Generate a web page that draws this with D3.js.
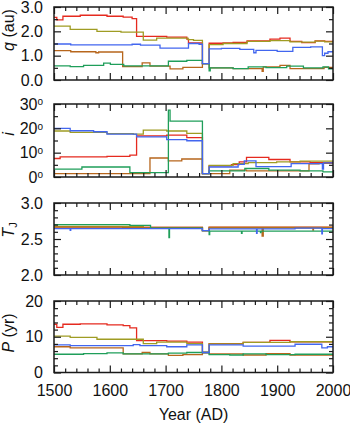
<!DOCTYPE html>
<html><head><meta charset="utf-8">
<script src="https://cdn.jsdelivr.net/npm/d3@7"></script>
<style>body{margin:0;background:#fff}svg{display:block}</style>
</head><body><svg id="c" width="350" height="425"></svg>
<script>
// ---------- data: [year, value] step starts ----------
const seriesNames = ["red","olive","brown","green","blue"];
const seriesColors = ["#e52a1f","#9f9c23","#b7661c","#1f9e5a","#4266ef"];

const qRed   = [[1500,2.57],[1505,2.47],[1516,2.62],[1547,2.66],[1595,2.62],[1624,2.58],[1640,2.52],[1648,1.79],[1702,1.76],[1738,1.68],[1741,1.52],[1766,0.67],[1778,1.51],[1803,1.52],[1821,1.55],[1846,1.61],[1887,1.68],[1905,1.72],[1923,1.59],[1944,1.54],[1968,1.61],[1985,1.59]];
const qOlive = [[1500,2.21],[1529,2.08],[1577,2.0],[1620,1.97],[1660,1.64],[1684,1.72],[1740,1.66],[1750,1.63],[1766,0.67],[1778,1.45],[1803,1.5],[1846,1.59],[1887,1.62],[1923,1.57],[1944,1.56],[1968,1.6],[1985,1.57]];
const qBrown = [[1500,1.21],[1530,1.16],[1575,1.12],[1580,1.15],[1623,0.55],[1658,0.70],[1672,0.57],[1708,0.46],[1731,0.52],[1766,0.67],[1778,0.5],[1821,0.47],[1873,0.36],[1875,0.54],[1905,0.60],[1923,0.47],[1984,0.52]];
const qGreen = [[1500,0.58],[1529,0.55],[1553,0.60],[1589,0.69],[1601,0.64],[1625,0.58],[1705,0.77],[1738,0.81],[1766,0.67],[1778,0.38],[1780,0.50],[1821,0.47],[1848,0.54],[1880,0.51],[1917,0.57],[1947,0.50],[1982,0.54],[1992,0.46]];
const qBlue  = [[1500,1.48],[1530,1.44],[1640,1.47],[1655,1.43],[1690,1.31],[1741,1.50],[1760,1.47],[1766,0.67],[1778,1.28],[1800,1.30],[1833,1.26],[1858,1.12],[1862,1.22],[1900,1.18],[1928,1.34],[1960,1.36],[1981,1.0],[1985,1.1],[1991,1.16]];

const iRed   = [[1500,7.6],[1511,8.3],[1595,8.5],[1636,9.0],[1648,16.9],[1702,17.2],[1738,16.2],[1766,1.4],[1778,4.6],[1818,5.1],[1832,6.2],[1845,8.1],[1885,7.2],[1923,6.2],[1959,5.9]];
const iOlive = [[1500,18.9],[1529,18.3],[1595,17.8],[1642,17.6],[1660,19.3],[1702,18.9],[1738,17.9],[1766,1.4],[1778,4.8],[1821,5.5],[1848,5.9],[1899,6.2],[1941,6.5]];
const iBrown = [[1500,1.4],[1672,7.8],[1705,6.6],[1729,7.4],[1766,1.4],[1778,1.4],[1815,2.8],[1845,2.5],[1957,5.4],[1975,5.6]];
const iGreen = [[1500,3.2],[1550,4.1],[1636,1.8],[1705,27.5],[1708,23.0],[1766,1.4],[1778,2.5],[1842,3.5],[1885,2.8],[1941,2.5],[1982,2.1]];
const iBlue  = [[1500,20.0],[1529,19.0],[1571,18.6],[1595,17.6],[1648,16.5],[1702,15.4],[1738,14.9],[1766,1.4],[1778,4.1],[1830,5.2],[1841,6.6],[1862,4.3],[1925,5.5],[1981,3.2],[1983,5.8]];

const tRed   = [[1500,2.67],[1648,2.66],[1766,2.615],[1778,2.665]];
const tOlive = [[1500,2.675],[1660,2.655],[1766,2.615],[1778,2.66]];
const tBrown = [[1500,2.665],[1623,2.66],[1766,2.615],[1778,2.655],[1873,2.54],[1875,2.655],[1964,2.625],[1965,2.655]];
const tGreen = [[1500,2.70],[1636,2.69],[1673,2.65],[1706,2.52],[1707,2.65],[1766,2.615],[1778,2.56],[1779,2.61],[1836,2.58],[1837,2.61],[1870,2.59],[1871,2.61]];
const tBlue  = [[1500,2.645],[1529,2.62],[1530,2.645],[1766,2.615],[1778,2.64],[1863,2.58],[1864,2.64],[1932,2.65],[1980,2.57],[1981,2.645]];

const pRed   = [[1500,13.5],[1505,12.6],[1516,13.5],[1547,13.6],[1595,13.3],[1624,13.1],[1636,12.5],[1648,8.9],[1702,8.8],[1738,8.5],[1766,5.6],[1778,8.1],[1839,8.4],[1887,9.0],[1923,8.6]];
const pOlive = [[1500,10.2],[1529,9.8],[1577,9.3],[1660,8.1],[1684,8.5],[1738,8.1],[1766,5.6],[1778,8.0],[1839,8.4],[1923,8.6]];
const pBrown = [[1500,7.2],[1529,6.9],[1624,5.2],[1658,5.6],[1672,5.2],[1705,4.8],[1731,5.0],[1766,5.6],[1778,5.2],[1839,4.9],[1880,5.3],[1923,4.9]];
const pGreen = [[1500,5.1],[1553,5.3],[1595,5.5],[1624,5.2],[1705,5.4],[1738,5.6],[1766,5.6],[1778,5.0],[1815,4.9],[1839,5.2],[1880,5.0],[1932,5.1]];
const pBlue  = [[1500,7.7],[1529,7.5],[1642,7.8],[1654,7.5],[1702,7.2],[1738,7.7],[1766,5.6],[1778,7.7],[1839,7.4],[1932,7.9],[1980,6.9],[1990,7.2]];

const xMajorTicks = [1500,1600,1700,1800,1900,2000];
const xTickLabels = ["1500","1600","1700","1800","1900","2000"];
const qTicks = [0,1,2,3], qTickLabels = ["0.0","1.0","2.0","3.0"];
const iTicks = [0,10,20,30], iTickLabels = ["0","10","20","30"];
const tTicks = [2.0,2.5,3.0], tTickLabels = ["2.0","2.5","3.0"];
const pTicks = [0,10,20], pTickLabels = ["0","10","20"];

// ---------- layout ----------
const FONT = "'Liberation Sans', Arial, Helvetica, sans-serif";
const svg = d3.select('#c');
const x = d3.scaleLinear().domain([1500,2000]).range([54,333]);

const panels = [
  {top:7,   bottom:80,    domain:[0,3],   ticks:qTicks, labels:qTickLabels, minorStep:0.5, data:[qRed,qOlive,qBrown,qGreen,qBlue], title:"q", deg:false, titleY:30},
  {top:104, bottom:177,   domain:[0,30],  ticks:iTicks, labels:iTickLabels, minorStep:5,   data:[iRed,iOlive,iBrown,iGreen,iBlue], title:"i", deg:true, titleY:134},
  {top:203, bottom:275,   domain:[2,3],   ticks:tTicks, labels:tTickLabels, minorStep:0.1, data:[tRed,tOlive,tBrown,tGreen,tBlue], title:"T", deg:false, titleY:230},
  {top:301, bottom:372.5, domain:[0,20],  ticks:pTicks, labels:pTickLabels, minorStep:2,   data:[pRed,pOlive,pBrown,pGreen,pBlue], title:"P", deg:false, titleY:333}
];

const minorX = d3.range(1500,2001,20).filter(v => v % 100 !== 0);

function styleAxis(sel){
  sel.select('.domain').remove();
  sel.selectAll('.tick line').attr('stroke','#1a1a1a').attr('stroke-width',1.2);
  sel.selectAll('text').attr('fill','#111').style('font-family',FONT).style('font-size','16px');
}

panels.forEach((p,k) => {
  const y = d3.scaleLinear().domain(p.domain).range([p.bottom,p.top]);
  const g = svg.append('g');
  const cid = 'clip'+k;
  svg.append('clipPath').attr('id',cid).append('rect')
    .attr('x',54).attr('y',p.top).attr('width',279).attr('height',p.bottom-p.top);

  // lines
  const line = d3.line().x(d=>x(d[0])).y(d=>y(d[1])).curve(d3.curveStepAfter);
  const lg = g.append('g').attr('clip-path',`url(#${cid})`);
  p.data.forEach((s,j) => {
    const pts = s.concat([[2000, s[s.length-1][1]]]);
    lg.append('path').attr('d',line(pts)).attr('fill','none')
      .attr('stroke',seriesColors[j]).attr('stroke-width',1.3)
      .attr('stroke-linejoin','miter');
  });

  // minor y ticks
  const minorY = d3.range(p.domain[0], p.domain[1]+1e-9, p.minorStep)
    .filter(v => !p.ticks.some(t => Math.abs(t-v) < 1e-6));
  g.append('g').attr('transform',`translate(54,0)`)
    .call(d3.axisRight(y).tickValues(minorY).tickSize(4).tickFormat('')).call(styleAxis);
  g.append('g').attr('transform',`translate(333,0)`)
    .call(d3.axisLeft(y).tickValues(minorY).tickSize(4).tickFormat('')).call(styleAxis);
  // major y ticks
  const yl = g.append('g').attr('transform',`translate(54,0)`)
    .call(d3.axisLeft(y).tickValues(p.ticks).tickSize(-7).tickPadding(11)
      .tickFormat((d,i)=>p.labels[i])).call(styleAxis);
  g.append('g').attr('transform',`translate(333,0)`)
    .call(d3.axisRight(y).tickValues(p.ticks).tickSize(-7).tickFormat('')).call(styleAxis);
  if (p.deg) {
    yl.selectAll('.tick text').append('tspan').text('o')
      .attr('dy','-0.42em').style('font-size','10px');
  }

  // x ticks
  g.append('g').attr('transform',`translate(0,${p.bottom})`)
    .call(d3.axisTop(x).tickValues(minorX).tickSize(4).tickFormat('')).call(styleAxis);
  g.append('g').attr('transform',`translate(0,${p.top})`)
    .call(d3.axisBottom(x).tickValues(minorX).tickSize(4).tickFormat('')).call(styleAxis);
  const xb = g.append('g').attr('transform',`translate(0,${p.bottom})`)
    .call(d3.axisBottom(x).tickValues(xMajorTicks).tickSize(-7).tickPadding(12)
      .tickFormat((d,i)=> k===3 ? xTickLabels[i] : '')).call(styleAxis);
  g.append('g').attr('transform',`translate(0,${p.top})`)
    .call(d3.axisTop(x).tickValues(xMajorTicks).tickSize(-7).tickFormat('')).call(styleAxis);

  // frame
  g.append('rect').attr('x',54).attr('y',p.top).attr('width',279).attr('height',p.bottom-p.top)
    .attr('fill','none').attr('stroke','#1a1a1a').attr('stroke-width',1.5);

  // y title
  const t = svg.append('text').attr('transform',`translate(14,${p.titleY}) rotate(-90)`)
    .attr('text-anchor','middle').attr('fill','#111')
    .style('font-family',FONT).style('font-size','16px');
  t.append('tspan').style('font-style','italic').text(p.title);
  if (k===0) t.append('tspan').text(' (au)');
  if (k===2) t.append('tspan').attr('dy','0.3em').style('font-size','11px').text('J');
  if (k===3) t.append('tspan').text(' (yr)');
});

svg.append('text').attr('x',(54+333)/2).attr('y',420).attr('text-anchor','middle')
  .attr('fill','#111').style('font-family',FONT).style('font-size','16px').text('Year (AD)');
</script>
</body></html>
